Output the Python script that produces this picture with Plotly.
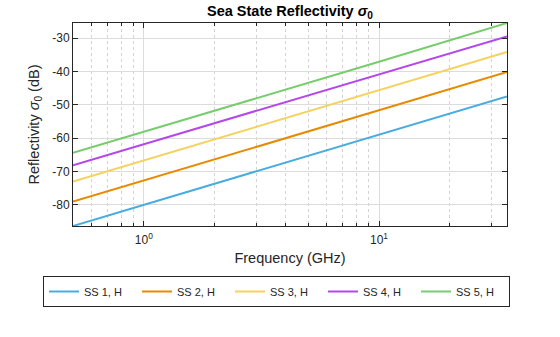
import plotly.graph_objects as go

freq_ghz = [0.5, 1, 10, 35]
series_names = ["SS 1, H", "SS 2, H", "SS 3, H", "SS 4, H", "SS 5, H"]
ss1 = [-86.3, -80.0, -59.0, -47.5]
ss2 = [-79.0, -72.7, -51.7, -40.2]
ss3 = [-73.0, -66.7, -45.7, -34.2]
ss4 = [-68.1, -61.8, -40.8, -29.5]
ss5 = [-64.4, -58.1, -37.1, -25.5]
series_values = [ss1, ss2, ss3, ss4, ss5]
colors = ["#48ACE0", "#E88A00", "#F6D15C", "#B447EA", "#77CC6E"]

x_major = [1, 10]
x_major_text = ["10<sup>0</sup>", "10<sup>1</sup>"]
x_minor = [0.5, 0.6, 0.7, 0.8, 0.9, 2, 3, 4, 5, 6, 7, 8, 9, 20, 30]
y_ticks = [-80, -70, -60, -50, -40, -30]
y_tick_text = ["-80", "-70", "-60", "-50", "-40", "-30"]

fig = go.Figure()
for name, vals, c in zip(series_names, series_values, colors):
    fig.add_trace(go.Scatter(x=freq_ghz, y=vals, mode="lines", name=name,
                             line=dict(color=c, width=2)))

font_fam = "Liberation Sans, Arial, sans-serif"
axis_col = "#262626"
plot_w = 560 - 73 - 53
plot_h = 337 - 23 - 111
fig.update_layout(
    width=560, height=337,
    margin=dict(l=73, r=53, t=23, b=111),
    paper_bgcolor="white", plot_bgcolor="white",
    font=dict(family=font_fam, size=11, color=axis_col),
    title=dict(text="<b>Sea State Reflectivity <i>σ</i><sub>0</sub></b>",
               x=0.5, xref="paper", xanchor="center",
               y=1 - 11 / 337, yref="container", yanchor="middle",
               font=dict(size=14.5, color="#000000")),
    showlegend=True,
    legend=dict(orientation="h",
                x=(43 - 73) / plot_w, xanchor="left",
                y=-(276 - 226) / plot_h, yanchor="top",
                bordercolor=axis_col, borderwidth=1, bgcolor="white",
                entrywidth=48, entrywidthmode="pixels",
                font=dict(size=11, color=axis_col), tracegroupgap=0),
)
fig.update_xaxes(
    type="log", range=[0.69897 - 1, 1.544068],
    tickmode="array", tickvals=x_major, ticktext=x_major_text,
    showline=True, linecolor=axis_col, linewidth=1, mirror="ticks",
    ticks="inside", ticklen=5, tickcolor=axis_col, ticklabelstandoff=3,
    showgrid=True, gridcolor="#DCDCDC", gridwidth=1,
    minor=dict(tickmode="array", tickvals=x_minor, ticks="inside", ticklen=3,
               tickcolor=axis_col, showgrid=True, gridcolor="#D2D2D2",
               griddash="dot", gridwidth=1),
    tickfont=dict(size=12, color=axis_col),
    title=dict(text="Frequency (GHz)", font=dict(size=14.5, color=axis_col), standoff=6),
    zeroline=False,
)
fig.update_yaxes(
    range=[-86.3, -25.5], tickmode="array", tickvals=y_ticks, ticktext=y_tick_text,
    showline=True, linecolor=axis_col, linewidth=1, mirror="ticks",
    ticks="inside", ticklen=5, tickcolor=axis_col,
    showgrid=True, gridcolor="#DCDCDC", gridwidth=1,
    tickfont=dict(size=12, color=axis_col),
    title=dict(text="Reflectivity <i>σ</i><sub>0</sub> (dB)",
               font=dict(size=14.5, color=axis_col), standoff=9),
    zeroline=False,
)
fig.write_html("out.html")
